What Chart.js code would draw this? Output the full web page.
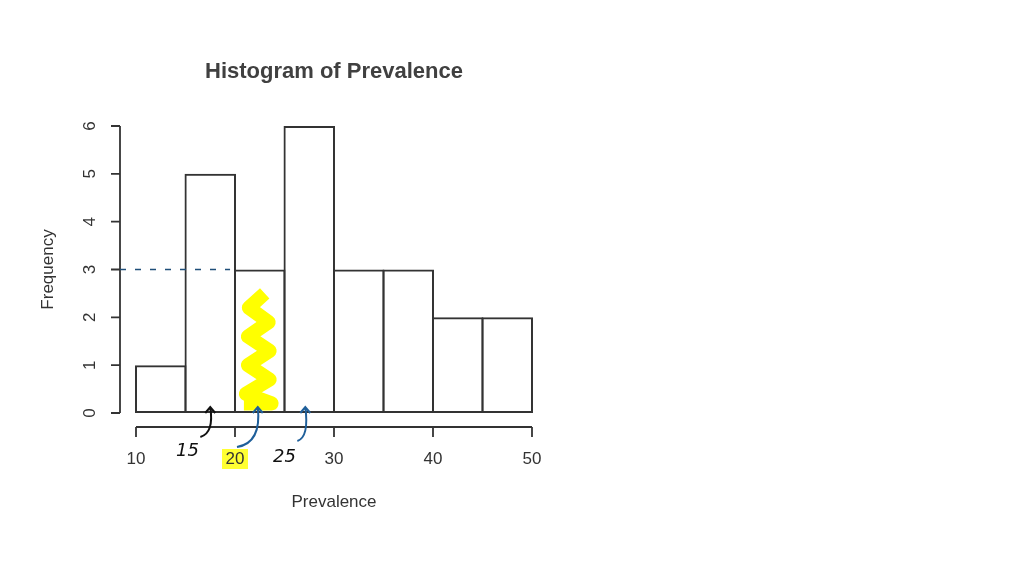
<!DOCTYPE html>
<html>
<head>
<meta charset="utf-8">
<script src="https://cdn.jsdelivr.net/npm/chart.js@4"></script>
<style>
  html, body { margin: 0; padding: 0; background: #fff; }
  #wrap { width: 1024px; height: 576px; }
</style>
</head>
<body>
<div id="wrap"><canvas id="myChart"></canvas></div>
<script>
// histogram bins of Prevalence
const binStarts = [10, 15, 20, 25, 30, 35, 40, 45];
const binWidth = 5;
const counts = [1, 5, 3, 6, 3, 3, 2, 2];
const xTicks = [10, 20, 30, 40, 50];
const yTicks = [0, 1, 2, 3, 4, 5, 6];

const ink = "#333333";
const font = "'Liberation Sans', Arial, sans-serif";

var points = [];
for (let i = 0; i < binStarts.length; i++) {
  points.push({ x: binStarts[i] + binWidth / 2, y: counts[i] });
}

// R-style axes, title and the handwritten marks, drawn from the scales
const rAxes = {
  id: "rAxes",
  beforeDatasetsDraw(chart) {
    const c = chart.ctx;
    const xs = chart.scales.x, ys = chart.scales.y;
    // yellow squiggle inside the 20-25 bin
    c.save();
    c.strokeStyle = "#ffff00";
    c.lineWidth = 14;
    c.lineJoin = "round";
    c.beginPath();
    const zig = [[23.0, 2.5], [21.4, 2.2], [23.4, 1.9], [21.3, 1.6], [23.5, 1.3], [21.3, 1.0], [23.5, 0.7], [21.1, 0.4], [23.7, 0.2], [20.9, 0.2]];
    zig.forEach((p, i) => {
      const px = xs.getPixelForValue(p[0]), py = ys.getPixelForValue(p[1]);
      if (i === 0) c.moveTo(px, py); else c.lineTo(px, py);
    });
    c.stroke();
    c.restore();
  },
  afterDraw(chart) {
    const c = chart.ctx;
    const xs = chart.scales.x, ys = chart.scales.y;
    const y0 = ys.getPixelForValue(0);
    const xAxisY = y0 + 14;
    const yAxisX = xs.getPixelForValue(10) - 16;
    c.save();
    c.strokeStyle = ink;
    c.fillStyle = ink;
    c.lineWidth = 1.8;

    // x axis
    c.beginPath();
    c.moveTo(xs.getPixelForValue(xTicks[0]), xAxisY);
    c.lineTo(xs.getPixelForValue(xTicks[xTicks.length - 1]), xAxisY);
    for (let t of xTicks) {
      const px = xs.getPixelForValue(t);
      c.moveTo(px, xAxisY);
      c.lineTo(px, xAxisY + 10);
    }
    c.stroke();

    // yellow highlight behind "20"
    const p20 = xs.getPixelForValue(20);
    c.fillStyle = "#ffff33";
    c.fillRect(p20 - 13, xAxisY + 22, 26, 20);
    c.fillStyle = ink;

    c.font = "17px " + font;
    c.textAlign = "center";
    c.textBaseline = "middle";
    for (let t of xTicks) {
      c.fillText(String(t), xs.getPixelForValue(t), xAxisY + 32);
    }

    // y axis
    c.beginPath();
    c.moveTo(yAxisX, ys.getPixelForValue(yTicks[0]));
    c.lineTo(yAxisX, ys.getPixelForValue(yTicks[yTicks.length - 1]));
    for (let t of yTicks) {
      const py = ys.getPixelForValue(t);
      c.moveTo(yAxisX, py);
      c.lineTo(yAxisX - 9, py);
    }
    c.stroke();
    for (let t of yTicks) {
      c.save();
      c.translate(yAxisX - 30, ys.getPixelForValue(t));
      c.rotate(-Math.PI / 2);
      c.fillText(String(t), 0, 0);
      c.restore();
    }

    // axis titles
    c.fillText("Prevalence", (xs.left + xs.right) / 2, xAxisY + 75);
    c.save();
    c.translate(yAxisX - 72, (ys.top + ys.bottom) / 2);
    c.rotate(-Math.PI / 2);
    c.fillText("Frequency", 0, 0);
    c.restore();

    // main title
    c.font = "bold 22px " + font;
    c.fillStyle = "#404040";
    c.fillText("Histogram of Prevalence", (xs.left + xs.right) / 2, ys.top - 54);

    // dashed blue line at 3
    c.strokeStyle = "#1f4e79";
    c.lineWidth = 1.5;
    c.setLineDash([6, 9]);
    c.beginPath();
    c.moveTo(yAxisX, ys.getPixelForValue(3));
    c.lineTo(xs.getPixelForValue(19.5), ys.getPixelForValue(3));
    c.stroke();
    c.setLineDash([]);

    // handwritten arrows and numbers
    const arrow = (col, fx, fy, tx, ty) => {
      c.strokeStyle = col;
      c.lineWidth = 2;
      c.beginPath();
      c.moveTo(fx, fy);
      c.quadraticCurveTo(tx + 4, fy - 4, tx, ty);
      c.moveTo(tx - 5, ty + 6);
      c.lineTo(tx, ty);
      c.lineTo(tx + 5, ty + 6);
      c.stroke();
    };
    arrow("#111111", xs.getPixelForValue(16.5), xAxisY + 10, xs.getPixelForValue(17.5), y0 - 6);
    arrow("#1f5f9a", xs.getPixelForValue(20.2), xAxisY + 20, xs.getPixelForValue(22.3), y0 - 6);
    arrow("#1f5f9a", xs.getPixelForValue(26.3), xAxisY + 14, xs.getPixelForValue(27.1), y0 - 6);
    c.fillStyle = "#111111";
    c.font = "italic 18px 'DejaVu Sans', sans-serif";
    c.fillText("15", xs.getPixelForValue(15.2), xAxisY + 24);
    c.fillText("25", xs.getPixelForValue(25.0), xAxisY + 30);
    c.restore();
  },
};

const config = {
  type: "bar",
  data: {
    datasets: [
      {
        data: points,
        backgroundColor: "rgba(255,255,255,0)",
        borderColor: ink,
        borderWidth: 2,
        borderSkipped: false,
        barPercentage: 1.04,
        categoryPercentage: 1,
        clip: 6,
      },
    ],
  },
  options: {
    responsive: false,
    animation: false,
    layout: {
      padding: { left: 136, right: 492, top: 126, bottom: 163 },
    },
    scales: {
      x: { type: "linear", min: 10, max: 50, offset: false, display: false },
      y: { min: 0, max: 6, display: false },
    },
    plugins: {
      legend: { display: false },
      tooltip: { enabled: false },
    },
  },
  plugins: [rAxes],
};

const cv = document.getElementById("myChart");
cv.width = 1024;
cv.height = 576;
const histChart = new Chart(cv, config);
</script>
</body>
</html>
